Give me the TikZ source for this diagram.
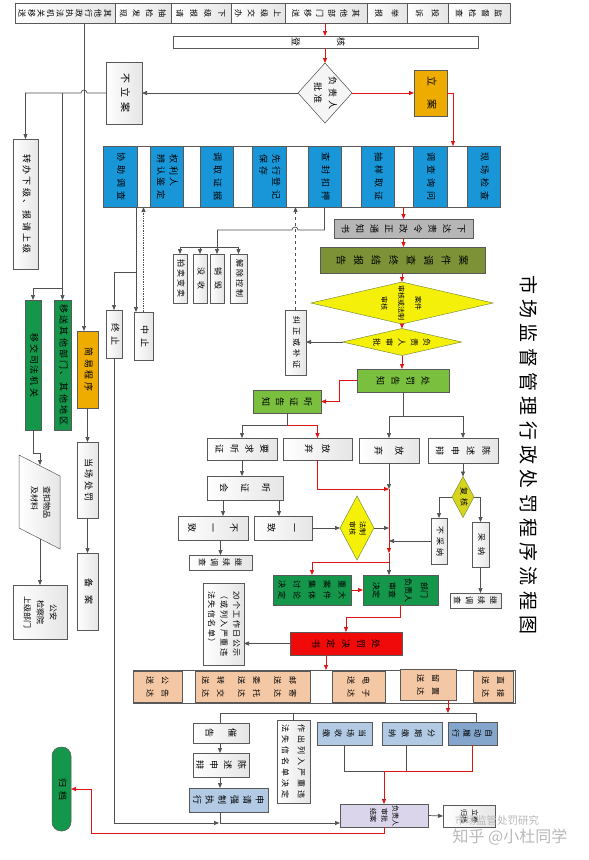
\documentclass[tikz,border=0pt]{standalone}
\usepackage{fontspec}
\setmainfont{Noto Sans CJK SC}
\usepackage{graphicx}
\usetikzlibrary{arrows.meta,shapes.geometric}
\newlength\csp
\def\lspa#1{\ifx#1\relax\else#1\hspace{\csp}\expandafter\lspa\fi}
\newcommand\lsp[2]{\setlength\csp{#1}\lspa#2\relax\unskip}
\def\vsa#1{\ifx#1\relax\else\hbox to 1em{\hss\vrule height 0.88em depth 0.12em width 0pt\smash{#1}\hss}\vskip\csp\relax\expandafter\vsa\fi}
\newcommand\vst[2]{\setlength\csp{#1}\rotatebox{-90}{\vbox{\offinterlineskip\vsa#2\relax\unskip}}}
\newcommand\rt[3][c]{\rotatebox{-90}{\renewcommand\arraystretch{#2}\begin{tabular}{@{}#1@{}}#3\end{tabular}}}
\newcommand\bxx[7]{\node[bx,#6,minimum width={(#4-#2)*1pt},minimum height={(#5-#3)*1pt}] (#1) at ({(#2+#4)/2},{(#3+#5)/2}) {#7};}
\definecolor{cline}{RGB}{80,80,80}
\definecolor{cred}{RGB}{225,20,20}
\definecolor{cred2}{RGB}{240,10,10}
\definecolor{cblue}{RGB}{25,150,215}
\definecolor{cgold}{RGB}{238,172,0}
\definecolor{colive}{RGB}{125,145,55}
\definecolor{cyel}{RGB}{245,240,10}
\definecolor{clgreen}{RGB}{122,192,62}
\definecolor{cdgreen}{RGB}{20,150,75}
\definecolor{cpeach}{RGB}{245,200,165}
\definecolor{clblue}{RGB}{178,202,228}
\definecolor{cmblue}{RGB}{132,166,205}
\definecolor{clav}{RGB}{218,213,235}
\definecolor{cxgray}{RGB}{182,182,182}
\definecolor{cfuhe}{RGB}{215,212,30}
\tikzset{
  bx/.style={draw=gray!70!black,line width=0.5pt,inner sep=0pt,outer sep=0pt,font=\fontsize{8}{10}\selectfont},
  diam/.style={draw=gray!60!black,line width=0.5pt,diamond,inner sep=0pt,outer sep=0pt},
  lg/.style={left color=white,right color=gray!20},
  fs6/.style={font=\fontsize{6}{7}\selectfont},
  fs7/.style={font=\fontsize{7}{8.5}\selectfont},
  fs8/.style={font=\fontsize{8}{10}\selectfont},
  fs9/.style={font=\fontsize{9}{11}\selectfont},
  fs10/.style={font=\fontsize{10}{12}\selectfont},
  garr/.style={draw=cline,line width=0.7pt,-{Triangle[length=5pt,width=4pt]}},
  gline/.style={draw=cline,line width=0.7pt},
  rarr/.style={draw=cred,line width=0.8pt,-{Triangle[length=5pt,width=4pt]}},
  rline/.style={draw=cred,line width=0.8pt},
}
\begin{document}
\begin{tikzpicture}[x=1pt,y=-1pt]
\fill[white] (0,0) rectangle (589,860);
\useasboundingbox (0,0) rectangle (589,860);
% top row
\bxx{s1}{15}{3}{115}{23}{lg,fs8}{\vst{1.5pt}{其他行政执法机关移送}}
\bxx{s2}{115}{3}{171}{23}{lg,fs8}{\vst{5pt}{抽检发现}}
\bxx{s3}{171}{3}{231}{23}{lg,fs8}{\vst{6pt}{下级报请}}
\bxx{s4}{231}{3}{285}{23}{lg,fs8}{\vst{5pt}{上级交办}}
\bxx{s5}{285}{3}{367}{23}{lg,fs8}{\vst{4pt}{其他部门移送}}
\bxx{s6}{367}{3}{407}{23}{lg,fs8}{\vst{8pt}{举报}}
\bxx{s7}{407}{3}{448}{23}{lg,fs8}{\vst{8pt}{投诉}}
\bxx{s8}{448}{3}{510}{23}{lg,fs8}{\vst{5pt}{监督检查}}
\bxx{bar}{173}{36}{478}{48}{fill=white}{}
\node[fs9,inner sep=0pt] (bt1) at (296,42) {\rotatebox{-90}{登}};
\node[fs9,inner sep=0pt] (bt2) at (341,42) {\rotatebox{-90}{核}};
% decision 1
\node[diam,fill=gray!8,minimum width=54pt,minimum height=60pt] (d1) at (325,93) {};
\node[fs9] (d1t) at (d1) {\rt{1.35}{\lsp{3pt}{负责人}\\\lsp{3pt}{批准}}};
\bxx{lian}{414}{70}{447}{116}{fill=cgold,fs10}{\rt{1}{\lsp{14pt}{立案}}}
\bxx{buli}{106}{62}{142}{124}{lg,fs10}{\rt{1}{\lsp{5pt}{不立案}}}
\bxx{zhuan}{13}{139}{38}{269}{lg,fs9}{\rt{1}{\lsp{2.3pt}{转办下级、报请上级}}}
\bxx{yijiao}{25}{300}{41}{430}{fill=cdgreen,fs9}{\rt{1}{\lsp{2pt}{移交司法机关}}}
\bxx{yisong}{54}{300}{71}{430}{fill=cdgreen,fs9}{\rt{1}{\lsp{2.2pt}{移送其他部门、其他地区}}}
\bxx{jianyi}{77}{331}{98}{408}{fill=cgold,fs9}{\rt{1}{\lsp{2.5pt}{简易程序}}}
\bxx{dangchang}{77}{442}{98}{518}{lg,fs9}{\rt{1}{\lsp{2.5pt}{当场处罚}}}
\bxx{beian}{77}{553}{98}{630}{lg,fs9}{\rt{1}{\lsp{8pt}{备案}}}
\draw[draw=gray!70!black,line width=0.5pt,left color=white,right color=gray!20] (19,455) -- (60,476) -- (60,549) -- (19,528) -- cycle;
\node[fs8] (trap) at (40,502) {\rt[l]{1.25}{查扣物品\\及材料}};
\bxx{gongan}{13}{585}{67}{639}{lg,fs8}{\rt{1.3}{公安\\检察院\\上级部门}}
\bxx{zz1}{106}{310}{122}{358}{lg,fs9}{\rt{1}{\lsp{4pt}{终止}}}
\bxx{zz2}{134}{312}{153}{360}{lg,fs9}{\rt{1}{\lsp{4pt}{中止}}}
% blue row
\bxx{brow}{103}{146}{500}{207}{fill=white}{}
\bxx{b1}{103}{146}{137}{207}{fill=cblue,fs9}{\rt{1}{\lsp{4pt}{协助调查}}}
\bxx{b2}{150}{146}{183}{207}{fill=cblue,fs9}{\rt[l]{1.15}{\lsp{3pt}{权利人}\\\lsp{3pt}{辨认鉴定}}}
\bxx{b3}{200}{146}{233}{207}{fill=cblue,fs9}{\rt{1}{\lsp{4pt}{调取证据}}}
\bxx{b4}{252}{146}{286}{207}{fill=cblue,fs9}{\rt[l]{1.15}{\lsp{3pt}{先行登记}\\\lsp{3pt}{保存}}}
\bxx{b5}{308}{146}{341}{207}{fill=cblue,fs9}{\rt{1}{\lsp{4pt}{查封扣押}}}
\bxx{b6}{361}{146}{394}{207}{fill=cblue,fs9}{\rt{1}{\lsp{4pt}{抽样取证}}}
\bxx{b7}{413}{146}{447}{207}{fill=cblue,fs9}{\rt{1}{\lsp{4pt}{调查询问}}}
\bxx{b8}{467}{146}{500}{207}{fill=cblue,fs9}{\rt{1}{\lsp{4pt}{现场检查}}}
\bxx{pm}{173}{254}{187}{303}{lg,fs8}{\rt{1}{\lsp{2pt}{拍卖变卖}}}
\bxx{ms}{193}{254}{207}{303}{lg,fs8}{\rt{1}{\lsp{6pt}{没收}}}
\bxx{xh}{210}{254}{224}{303}{lg,fs8}{\rt{1}{\lsp{6pt}{销毁}}}
\bxx{jc}{230}{254}{247}{303}{lg,fs8}{\rt{1}{\lsp{2pt}{解除控制}}}
\bxx{jz}{285}{310}{306}{375}{lg,fs8}{\rt{1}{\lsp{3pt}{纠正或补证}}}
% main column
\bxx{xiada}{334}{219}{473}{238}{fill=cxgray,fs9}{\vst{5.5pt}{下达责令改正通知书}}
\bxx{baogao}{320}{247}{485}{273}{fill=colive,fs10}{\vst{7.5pt}{案件调查终结报告}}
\node[diam,fill=cyel,draw=colive,minimum width=182pt,minimum height=42pt] (d2) at (402,303) {};
\node[fs7] (d2t) at (d2) {\rt{2}{案件\\审核或法制\\审核}};
\node[diam,fill=cyel,draw=colive,minimum width=119pt,minimum height=27pt] (d3) at (402,342) {};
\node[fs8] (d3t) at (d3) {\vst{4.5pt}{负责人审批}};
\bxx{chufa}{357}{369}{449}{392}{fill=clgreen,fs9}{\vst{6pt}{处罚告知}}
\bxx{tzgz}{253}{390}{321}{413}{fill=clgreen,fs9}{\vst{5pt}{听证告知}}
\bxx{fq1}{283}{438}{352}{460}{lg,fs9}{\vst{8pt}{放弃}}
\bxx{fq2}{359}{438}{419}{463}{lg,fs9}{\vst{12pt}{放弃}}
\bxx{cs}{428}{438}{498}{463}{lg,fs9}{\vst{6.5pt}{陈述申辩}}
\bxx{yq}{207}{438}{277}{460}{lg,fs9}{\vst{6pt}{要求听证}}
\bxx{tzh}{207}{476}{283}{500}{lg,fs9}{\vst{12pt}{听证会}}
\bxx{byz}{178}{516}{248}{540}{lg,fs9}{\vst{12pt}{不一致}}
\bxx{yz}{254}{516}{312}{540}{lg,fs9}{\vst{14pt}{一致}}
\bxx{jx1}{189}{555}{252}{570}{lg,fs8}{\vst{4pt}{继续调查}}
\node[diam,fill=cyel,draw=colive,minimum width=34pt,minimum height=64pt] (d4) at (357,528) {};
\node[fs7] (d4t) at (d4) {\rt{1.2}{法制\\审核}};
\node[diam,fill=cfuhe,draw=colive,minimum width=22pt,minimum height=41pt] (fh) at (463,497) {};
\node[fs8] (fht) at (fh) {\rt{1}{\lsp{3pt}{复核}}};
\bxx{bc}{431}{518}{447}{564}{lg,fs8}{\rt{1}{\lsp{3pt}{不采纳}}}
\bxx{cn}{472}{522}{489}{567}{lg,fs8}{\rt{1}{\lsp{6pt}{采纳}}}
\bxx{jx2}{450}{593}{501}{608}{lg,fs8}{\vst{4pt}{继续调查}}
\bxx{zd}{273}{575}{351}{605}{fill=cdgreen,fs8}{\rt{1.5}{\lsp{3pt}{重大}\\\lsp{3pt}{案件}\\\lsp{3pt}{集体}\\\lsp{3pt}{讨论}\\\lsp{3pt}{决定}}}
\bxx{bm}{363}{575}{438}{605}{fill=cdgreen,fs8}{\rt{1.6}{部门\\负责人\\审查\\决定}}
\bxx{jd}{290}{632}{402}{655}{fill=cred2,fs9}{\vst{6pt}{处罚决定书}}
\bxx{gs}{203}{583}{244}{665}{lg,fs8}{\rt[l]{1.25}{\lsp{1.5pt}{{20}个工作日公示}\\\lsp{1.5pt}{（或列入严重违}\\\lsp{1.5pt}{法失信名单）}}}
% delivery row
\bxx{prow}{133}{670}{515}{703}{fill=white}{}
\bxx{p1}{133}{671}{182}{702}{fill=cpeach,fs8}{\rt{1.5}{\lsp{5pt}{公告}\\\lsp{5pt}{送达}}}
\bxx{p2}{195}{671}{310}{702}{fill=cpeach}{}
\node[fs8] (p2a) at (213,687) {\rt{1.5}{\lsp{5pt}{转交}\\\lsp{5pt}{送达}}};
\node[fs8] (p2b) at (249,687) {\rt{1.5}{\lsp{5pt}{委托}\\\lsp{5pt}{送达}}};
\node[fs8] (p2c) at (285,687) {\rt{1.5}{\lsp{5pt}{邮寄}\\\lsp{5pt}{送达}}};
\bxx{p3}{332}{671}{385}{702}{fill=cpeach,fs8}{\rt{1.5}{\lsp{5pt}{电子}\\\lsp{5pt}{送达}}}
\bxx{p4}{400}{669}{456}{700}{fill=cpeach,fs8}{\rt{1.5}{\lsp{5pt}{留置}\\\lsp{5pt}{送达}}}
\bxx{p5}{473}{671}{513}{702}{fill=cpeach,fs8}{\rt{1.5}{\lsp{5pt}{直接}\\\lsp{5pt}{送达}}}
% execution
\bxx{cg}{193}{723}{249}{743}{lg,fs9}{\vst{14pt}{催告}}
\bxx{cs2}{193}{753}{249}{777}{lg,fs9}{\vst{5pt}{陈述申辩}}
\bxx{qz}{189}{788}{268}{812}{fill=clblue,fs9}{\vst{3.5pt}{申请强制执行}}
\bxx{sx}{277}{720}{310}{803}{lg,fs8}{\rt[l]{1.6}{\lsp{3pt}{作出列入严重违}\\\lsp{3pt}{法失信名单决定}}}
\bxx{dc2}{317}{722}{372}{745}{fill=clblue,fs8}{\vst{4pt}{当场收缴}}
\bxx{fq}{382}{722}{442}{745}{fill=clblue,fs8}{\vst{5pt}{分期缴纳}}
\bxx{zdl}{448}{722}{497}{745}{fill=cmblue,fs8}{\vst{3pt}{自动履行}}
\bxx{ja}{340}{804}{428}{827}{fill=clav,fs7}{\rt{1.3}{负责人\\审批\\结案}}
\bxx{ljgd}{443}{805}{495}{827}{lg,fs7}{\rt{1.3}{立卷\\归档}}
\bxx{gd}{52}{747}{71}{831}{fill=cdgreen,rounded corners=9pt,fs9}{\rt{1}{\lsp{4pt}{归档}}}
% title and watermark
\node[font=\fontsize{19}{19}\selectfont] (title) at (529,455) {\rotatebox{-90}{\lsp{5.3pt}{市场监督管理行政处罚程序流程图}}};
\node[text=gray!55,font=\fontsize{10.5}{12}\selectfont] (wm1) at (497,820) {市场监管处罚研究};
\node[text=gray!55,font=\fontsize{16}{18}\selectfont] (wm2) at (510,837) {知乎 @小杜同学};
% connectors
\draw[rarr] (s5.south -| d1.north) -- (bar.north -| d1.north);
\draw[rarr] (bar.south -| d1.north) -- (d1.north);
\draw[rarr] (d1.east) -- (lian.west);
\draw[rarr] (lian.east) -| (brow.north -| 453,0);
\draw[garr] (d1.west) -- (buli.east);
\draw[garr] (buli.west) -- (87,93) arc[start angle=0,end angle=-180,radius=3] -| (zhuan.north);
\draw[garr] (s1.south -| 84,0) -- (jianyi.north -| 84,0);
\draw[garr] (buli.west -| yisong.north) -- (yisong.north);
\draw[garr] (yisong.north |- 0,288) -| (yijiao.north);
\draw[garr] (jianyi.south) -- (dangchang.north);
\draw[garr] (dangchang.south) -- (beian.north);
\draw[garr] (yijiao.south) |- (40,453) -- (40,465);
\draw[garr] (40,539) -- (gongan.north);
\draw[garr] (brow.south -| 136,0) -- (zz2.north -| 136,0);
\draw[garr] (136,272) -| (zz1.north);
\draw[garr,densely dotted] (zz2.north) -- (brow.south -| zz2.north);
\draw[gline] (b5.south) |- (298,230) arc[start angle=0,end angle=-180,radius=3] -- (217,230);
\draw[garr] (217,230) -- (xh.north);
\draw[gline] (pm.north |- 0,247) -- (jc.north |- 0,247);
\draw[garr] (pm.north |- 0,247) -- (pm.north);
\draw[garr] (ms.north |- 0,247) -- (ms.north);
\draw[garr] (jc.north |- 0,247) -- (jc.north);
\draw[garr,dashed] (jz.north) -- (brow.south -| jz.north);
\draw[rarr] (brow.south -| xiada.north) -- (xiada.north);
\draw[rarr] (xiada.south) -- (xiada.south |- baogao.north);
\draw[rarr] (baogao.south -| d2.north) -- (d2.north);
\draw[rarr] (d2.south) -- (d3.north);
\draw[garr] (d3.west) -- (d3.west -| jz.east);
\draw[rarr] (d3.south) -- (d3.south |- chufa.north);
\draw[rarr] (chufa.west) -- (339,380.5) |- (tzgz.east);
\draw[garr] (chufa.south) |- (fq2.north |- 0,416) -- (fq2.north);
\draw[garr] (chufa.south) |- (cs.north |- 0,416) -- (cs.north);
\draw[garr] (tzgz.south) |- (yq.north |- 0,425) -- (yq.north);
\draw[rarr] (tzgz.south |- 0,425) -| (fq1.north);
\draw[garr] (yq.south) -- (yq.south |- tzh.north);
\draw[garr] (tzh.south -| 223,0) -- (byz.north -| 223,0);
\draw[garr] (tzh.south -| 279,0) -- (yz.north -| 279,0);
\draw[garr] (jx1.north |- byz.south) -- (jx1.north);
\draw[garr] (yz.east) -- (d4.west);
\coordinate (j1) at (389,489);
\coordinate (j2) at (389,553);
\coordinate (j3) at (389,562);
\draw[garr] (fq2.south) -- (j1);
\draw[rarr] (fq1.south) |- (j1);
\draw[rarr] (j1) -- (j2);
\draw[rline] (j2) -- (j3);
\draw[rarr] (j3) -| (zd.north);
\draw[garr] (j3) -- (bm.north -| j3);
\draw[garr] (d4.east) -- (d4.east -| j1);
\draw[garr] (bc.west) -- (bc.west -| j1);
\draw[garr] (cs.south) -- (fh.north);
\draw[garr] (fh.west) -| (bc.north);
\draw[garr] (fh.east) -| (cn.north);
\draw[garr] (cn.south) -- (cn.south |- jx2.north);
\draw[rarr] (zd.east) -- (bm.west);
\draw[rarr] (bm.south) -- ++(0,12) -| (jd.north);
\draw[garr] (jd.west) -- (jd.west -| gs.east);
\draw[rarr] (jd.south -| 326,0) -- (prow.north -| 326,0);
\coordinate (k1) at (220,713);
\coordinate (k2) at (476,713);
\draw[gline] (k1) -- (k2);
\draw[rarr] (p4.south -| 448,0) -- (448,713);
\draw[gline] (k1) -- (cg.north -| k1);
\draw[gline] (sx.north |- k1) -- (sx.north);
\draw[gline] (k2) -- (zdl.north -| k2);
\draw[garr] (cg.south -| k1) -- (cs2.north -| k1);
\draw[garr] (cs2.south -| k1) -- (qz.north -| k1);
\coordinate (m) at (384,771);
\draw[gline] (dc2.south) |- (m);
\draw[gline] (fq.south -| 406,0) -- (406,771);
\draw[rarr] (zdl.south) |- (m) -- (ja.north);
\draw[garr] (zz1.south) |- (219,823);
\draw[gline] (qz.south -| 220,0) -- (220,823);
\draw[garr] (220,823) -- (ja.west |- 0,823);
\draw[rarr] (ja.south) |- (91,833) |- (gd.east);
\draw[garr] (ja.east) -- (ljgd.west);
\end{tikzpicture}
\end{document}
